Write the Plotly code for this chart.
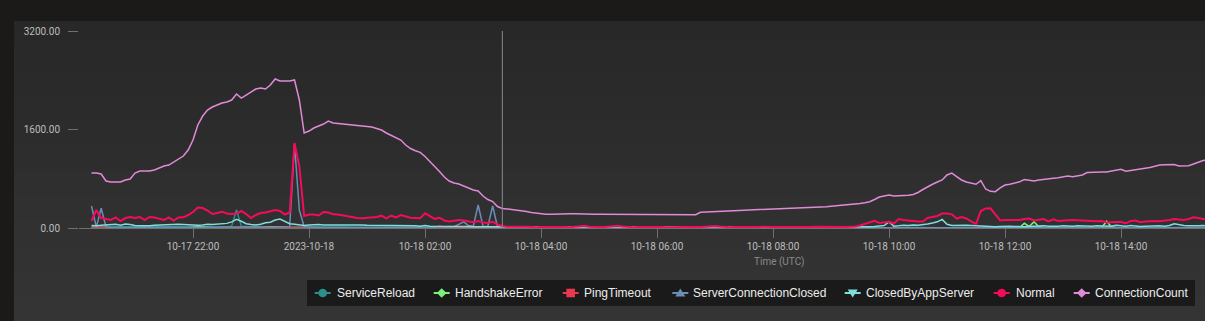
import math
import plotly.graph_objects as go
import pandas as pd

times = pd.date_range("2023-10-17 20:15", periods=232, freq="5min")

connection_count = [
    893, 893, 877, 763, 747, 747, 747, 780, 796, 893,
    926, 926, 926, 942, 974, 1007, 1023, 1072, 1121, 1169,
    1267, 1429, 1673, 1819, 1916, 1965, 1998, 2030, 2046, 2079,
    2176, 2111, 2160, 2209, 2257, 2274, 2257, 2322, 2420, 2387,
    2387, 2387, 2404, 2079, 1543, 1575, 1624, 1656, 1689, 1738,
    1705, 1697, 1689, 1689, 1681, 1665, 1656, 1648, 1640, 1616,
    1592, 1543, 1502, 1470, 1429, 1348, 1291, 1255, 1229, 1161,
    1088, 999, 918, 828, 763, 731, 715, 682, 650, 617,
    601, 520, 463, 430, 349, 317, 309, 300, 292, 284,
    268, 252, 239, 231, 222, 222, 227, 232, 232, 232,
    231, 227,
    227, 226, 225, 224, 224, 223, 222, 222, 221, 220, 219, 218,
    217, 216, 216, 215, 214, 213, 213, 212, 212, 212, 213, 215,
    255, 260, 268, 273, 276, 276, 279, 283, 286, 289,
    292, 296, 299, 300, 302, 304, 309, 313, 317, 320,
    325, 328, 333, 338, 341, 344, 346, 354, 360, 370,
    377, 383, 390, 398, 411, 427, 463, 503, 520, 536,
    520, 520, 528, 531, 544, 577, 625, 674, 711, 747,
    780, 861, 893, 836, 780, 747, 723, 710, 768, 633,
    596, 590, 650, 698, 710, 731, 750, 788, 771, 763,
    780, 792, 802, 809, 815, 828, 844, 833, 848, 861,
    900, 906, 906, 908, 909, 926, 942, 953, 921, 934,
    945, 953, 961, 982, 1002, 1023, 1026, 1031, 1031, 1007,
    1010, 1012, 1039, 1072, 1096, 1112,
]

normal = [
    114, 292, 162, 146, 130, 171, 114, 162, 179, 162,
    179, 130, 179, 171, 154, 130, 171, 122, 171, 174,
    211, 260, 333, 325, 284, 227, 244, 265, 235, 227,
    235, 276, 227, 162, 211, 244, 252, 276, 292, 276,
    219, 252, 1380, 1000, 195, 219, 219, 203, 260, 252,
    222, 219, 203, 184, 179, 162, 158, 162, 167, 179,
    200, 158, 200, 171, 211, 187, 167, 162, 158, 239,
    187, 149, 167, 122, 106, 122, 130, 122, 106, 93,
    114, 89, 81, 102, 57, 32, 21,
    18, 15, 20, 22, 16, 14, 18, 20, 15, 18,
    20, 16, 14, 22, 28, 36, 22, 15, 18, 16,
    20, 30, 36, 24, 15, 14, 16, 18, 15, 14,
    16, 15, 14, 12, 15, 14, 16, 18, 15, 16,
    22, 28, 32, 24, 16, 14, 18, 16, 14, 15,
    16, 18, 20, 24, 18, 15, 14, 16, 18, 16,
    15, 16, 18, 20, 18, 16, 20, 22, 18, 16, 20,
    24, 41, 65, 97, 118, 81, 89, 102, 73, 146,
    130, 118, 110, 106, 106, 162, 179, 195, 235, 235,
    222, 154, 179, 154, 106, 65, 276, 317, 320, 211,
    122, 130, 130, 122, 130, 146, 154, 122, 130, 146,
    106, 141, 114, 114, 125, 130, 125, 130, 122, 118,
    110, 114, 89, 93, 97, 102, 73, 114, 122, 93,
    106, 114, 114, 109, 114, 130, 146, 138, 130, 146,
    174, 162, 146, 146,
]

closed_by_app_server = [
    40, 35, 45, 50, 48, 60, 45, 65, 55, 40,
    38, 35, 35, 45, 50, 48, 50, 55, 60, 55,
    50, 55, 45, 50, 60, 55, 60, 70, 75, 100,
    140, 110, 70, 55, 50, 60, 85, 95, 130, 145,
    110, 70, 60, 45, 40, 50, 55, 55, 50, 50,
    55, 60, 55, 55, 50, 50, 50, 45, 45, 45,
    45, 45, 40, 40, 45, 40, 40, 35, 30, 40,
    30, 30, 25, 30, 35, 30, 30, 25, 25, 20,
    20, 18, 15, 15, 12, 10, 10, 10, 8, 8,
    10, 12, 10, 8, 10, 12, 10, 8, 10, 12,
    10, 8, 10, 12, 10, 8, 10, 12, 10, 8,
    10, 12, 10, 8, 10, 12, 10, 8, 10, 12,
    10, 8, 10, 12, 10, 8, 10, 12, 10, 8,
    10, 12, 10, 8, 10, 12, 10, 8, 10, 12,
    10, 8, 10, 12, 10, 8, 10, 12, 10, 8,
    10, 12, 10, 8, 10, 12, 10, 8, 10, 12,
    15, 20, 25, 30, 40, 100, 30, 35, 45, 40,
    50, 45, 50, 65, 80, 100, 140, 60, 40, 45,
    50, 45, 40, 35, 40, 35, 25, 20, 25, 30,
    30, 25, 20, 20, 25, 30, 25, 35, 30, 25,
    30, 35, 30, 30, 35, 30, 25, 30, 35, 30,
    25, 30, 45, 35, 30, 40, 30, 25, 30, 35,
    30, 35, 30, 40, 70, 50, 40, 35, 30, 35, 40, 35,
]

server_connection_closed = [
    357, 15, 320, 20, 10, 12, 10, 8, 10, 12,
    10, 8, 10, 12, 10, 8, 10, 12, 10, 10,
    12, 10, 8, 10, 12, 10, 10, 8, 10, 12,
    14, 10, 8, 10, 12, 10, 10, 12, 10, 10,
    12, 20, 1360, 292, 20, 10, 12, 10, 8, 10,
    10, 12, 10, 8, 10, 10, 12, 10, 8, 10,
    10, 12, 10, 10, 8, 10, 12, 10, 8, 10,
    12, 10, 30, 15, 25, 20, 60, 100, 40, 30,
    374, 30, 25, 357, 20, 10, 8, 6, 5, 6,
    5, 6, 5, 4, 5, 6, 5, 4, 5, 6,
    5, 4, 5, 6, 5, 4, 5, 6, 5, 4,
    5, 4, 5, 6, 5, 4, 5, 6, 5, 4,
    5, 4, 5, 6, 5, 4, 5, 6, 5, 4,
    5, 4, 5, 6, 5, 4, 5, 6, 5, 4,
    5, 4, 5, 6, 5, 4, 5, 6, 5, 4,
    5, 4, 5, 6, 5, 4, 5, 6, 5, 4,
    5, 6, 8, 6, 5, 8, 6, 5, 6, 8,
    6, 5, 8, 6, 5, 8, 6, 5, 6, 8,
    6, 5, 8, 6, 5, 8, 6, 5, 6, 8,
    6, 5, 8, 6, 5, 8, 6, 5, 6, 8,
    6, 5, 8, 6, 5, 8, 6, 5, 6, 8,
    6, 5, 8, 6, 5, 8, 6, 5, 6, 8,
    6, 5, 8, 6, 5, 8, 6, 5, 6, 8, 6, 5,
]

service_reload = [
    20, 18, 22, 20, 18, 20, 22, 18, 20, 22,
    20, 18, 20, 22, 18, 20, 22, 20, 18, 20,
    22, 20, 18, 20, 22, 20, 18, 20, 22, 30,
    292, 30, 20, 18, 20, 22, 20, 18, 20, 22,
    20, 18, 20, 22, 18, 20, 22, 20, 18, 20,
    18, 16, 18, 16, 14, 16, 18, 16, 14, 16,
    14, 12, 14, 12, 10, 12, 14, 12, 10, 12,
    10, 8, 10, 8, 6, 8, 10, 8, 6, 8,
    6, 5, 4, 5, 4, 3, 4, 3, 2, 3,
    2, 3, 2, 2, 3, 2, 2, 3, 2, 2,
    3, 2, 2, 3, 2, 2, 3, 2, 2, 3,
    2, 2, 3, 2, 2, 3, 2, 2, 3, 2,
    2, 3, 2, 2, 3, 2, 2, 3, 2, 2,
    3, 2, 2, 3, 2, 2, 3, 2, 2, 3,
    2, 2, 3, 2, 2, 3, 2, 2, 3, 2,
    2, 3, 2, 2, 3, 2, 2, 3, 2, 2,
    3, 4, 5, 6, 5, 4, 5, 6, 5, 4,
    5, 6, 5, 4, 5, 6, 5, 4, 5, 6,
    5, 4, 5, 6, 5, 4, 5, 6, 5, 4,
    5, 6, 5, 4, 5, 6, 5, 4, 5, 6,
    5, 4, 5, 6, 5, 4, 5, 6, 5, 4,
    5, 6, 5, 4, 5, 6, 5, 4, 5, 6,
    5, 4, 5, 6, 5, 4, 5, 6, 5, 4, 5, 6,
]

handshake_error = [
    5, 6, 5, 4, 5, 6, 5, 4, 5, 6,
    5, 4, 5, 6, 5, 4, 5, 6, 5, 4,
    6, 12, 20, 15, 6, 5, 4, 5, 6, 5,
    4, 5, 6, 5, 4, 5, 12, 20, 15, 6,
    5, 4, 5, 6, 5, 4, 5, 6, 5, 4,
    5, 6, 5, 4, 5, 6, 5, 4, 5, 6,
    5, 4, 5, 6, 5, 4, 5, 6, 5, 4,
    5, 6, 5, 4, 5, 6, 5, 4, 5, 6,
    3, 2, 3, 2, 1, 2, 1, 0, 1, 0,
    0, 1, 0, 0, 1, 0, 0, 1, 0, 0,
    1, 0, 0, 1, 0, 0, 1, 0, 0, 1,
    0, 0, 1, 0, 0, 1, 0, 0, 1, 0,
    0, 1, 0, 0, 1, 0, 0, 1, 0, 0,
    1, 0, 0, 1, 0, 0, 1, 0, 0, 1,
    0, 0, 1, 0, 0, 1, 0, 0, 1, 0,
    0, 1, 0, 0, 1, 0, 0, 1, 0, 0,
    1, 2, 3, 2, 3, 4, 3, 2, 3, 4,
    3, 2, 3, 4, 3, 2, 3, 4, 3, 2,
    3, 4, 3, 2, 3, 4, 3, 2, 3, 4,
    3, 2, 3, 76, 25, 100, 20, 4, 3, 2,
    3, 4, 3, 2, 3, 4, 3, 2, 3, 4,
    110, 20, 3, 4, 3, 2, 3, 4, 3, 2,
    3, 4, 3, 2, 3, 4, 3, 2, 3, 4, 3, 2,
]

ping_timeout = [
    3, 8, 16, 10, 5, 3, 2, 3, 2, 3,
    2, 3, 2, 3, 2, 3, 2, 3, 2, 3,
    2, 3, 2, 3, 2, 3, 2, 3, 2, 3,
    2, 3, 2, 3, 2, 3, 2, 3, 2, 3,
    2, 6, 12, 6, 2, 3, 2, 3, 2, 3,
    2, 3, 2, 3, 2, 3, 2, 3, 2, 3,
    2, 3, 2, 3, 2, 3, 2, 3, 2, 3,
    2, 3, 2, 3, 2, 3, 2, 3, 2, 3,
    2, 1, 2, 1, 1, 1, 0, 1, 0, 1,
    0, 1, 0, 1, 0, 1, 0, 1, 0, 1,
    0, 1, 0, 1, 0, 1, 0, 1, 0, 1,
    0, 1, 0, 1, 0, 1, 0, 1, 0, 1,
    0, 1, 0, 1, 0, 1, 0, 1, 0, 1,
    0, 1, 0, 1, 0, 1, 0, 1, 0, 1,
    0, 1, 0, 1, 0, 1, 0, 1, 0, 1,
    0, 1, 0, 1, 0, 1, 0, 1, 0, 1,
    1, 2, 1, 2, 1, 2, 1, 2, 1, 2,
    1, 2, 1, 2, 1, 2, 1, 2, 1, 2,
    1, 2, 1, 2, 1, 2, 1, 2, 1, 2,
    1, 2, 1, 2, 1, 2, 1, 2, 1, 2,
    1, 2, 1, 2, 1, 2, 1, 2, 1, 2,
    1, 2, 1, 2, 1, 2, 1, 2, 1, 2,
    1, 2, 1, 2, 1, 2, 1, 2, 1, 2, 1, 2,
]

series_names = ["ServiceReload", "HandshakeError", "PingTimeout",
                "ServerConnectionClosed", "ClosedByAppServer", "Normal",
                "ConnectionCount"]
series_values = [service_reload, handshake_error, ping_timeout,
                 server_connection_closed, closed_by_app_server, normal,
                 connection_count]
series_colors = ["#2b8f8a", "#7cf07a", "#e8384f", "#6a8db5", "#7fdedb",
                 "#f70a5c", "#e08ad8"]
series_symbols = ["circle", "diamond", "square", "triangle-up",
                  "triangle-down", "circle", "diamond"]

tick_times = ["2023-10-17 22:00", "2023-10-18 00:00", "2023-10-18 02:00",
              "2023-10-18 04:00", "2023-10-18 06:00", "2023-10-18 08:00",
              "2023-10-18 10:00", "2023-10-18 12:00", "2023-10-18 14:00"]
tick_labels = ["10-17 22:00", "2023-10-18", "10-18 02:00", "10-18 04:00",
               "10-18 06:00", "10-18 08:00", "10-18 10:00", "10-18 12:00",
               "10-18 14:00"]
y_ticks = [0, 1600, 3200]
y_labels = ["0.00", "1600.00", "3200.00"]
cursor_time = "2023-10-18 03:20"

W, H = 1205, 321
L, R, T, B = 79, 0, 31, 93
PW, PH = W - L - R, H - T - B


def px_x(p):
    return (p - L) / PW


def px_y(p):
    return (H - B - p) / PH


fig = go.Figure()

for name, vals, col in zip(series_names, series_values, series_colors):
    fig.add_trace(go.Scatter(
        x=times, y=vals, mode="lines", name=name,
        line=dict(color=col, width=2 if name == "Normal" else 1.5),
        showlegend=False, hoverinfo="skip"))

shapes = []
annotations = []
# gradient panel background
n_bands = 12
top_px, bot_px = 21, 321
c0, c1 = (40, 40, 40), (52, 52, 52)
for k in range(n_bands):
    y0p = top_px + (bot_px - top_px) * k / n_bands
    y1p = top_px + (bot_px - top_px) * (k + 1) / n_bands
    t = k / (n_bands - 1)
    c = tuple(round(a + (b - a) * t) for a, b in zip(c0, c1))
    shapes.append(dict(type="rect", xref="paper", yref="paper",
                       x0=px_x(14), x1=px_x(W + 2), y0=px_y(y1p + 0.5), y1=px_y(y0p),
                       fillcolor="rgb(%d,%d,%d)" % c, line=dict(width=0),
                       layer="below"))
# cursor line
shapes.append(dict(type="line", xref="x", yref="y", x0=cursor_time, x1=cursor_time,
                   y0=0, y1=3200, line=dict(color="#8a8a8a", width=1)))

# legend (drawn as shapes + text)
leg_left, leg_right, leg_top, leg_bot = 307, 1195, 280, 306
leg_cy = (leg_top + leg_bot) / 2
shapes.append(dict(type="rect", xref="paper", yref="paper",
                   x0=px_x(leg_left), x1=px_x(leg_right),
                   y0=px_y(leg_bot), y1=px_y(leg_top),
                   fillcolor="#1a1a1a", line=dict(width=0), layer="above"))
marker_px = [322.7, 441.7, 570.7, 680.3, 852.7, 1001.7, 1081.7]
text_px = [336.7, 455.3, 584.0, 692.5, 866.0, 1015.7, 1095.0]


def circle_path(r, n=20):
    pts = [(r * math.cos(2 * math.pi * k / n), r * math.sin(2 * math.pi * k / n))
           for k in range(n)]
    return "M " + " L ".join("%.2f,%.2f" % p for p in pts) + " Z"


symbol_paths = {
    "circle": circle_path(4.3),
    "diamond": "M 0,4.8 L 4.8,0 L 0,-4.8 L -4.8,0 Z",
    "square": "M -4.3,-4.3 L 4.3,-4.3 L 4.3,4.3 L -4.3,4.3 Z",
    "triangle-up": "M -5,-3.5 L 5,-3.5 L 0,4.5 Z",
    "triangle-down": "M -5,3.5 L 5,3.5 L 0,-4.5 Z",
}
for name, col, sym, mx, tx in zip(series_names, series_colors, series_symbols,
                                  marker_px, text_px):
    shapes.append(dict(type="line", xref="paper", yref="paper",
                       x0=px_x(mx - 8), x1=px_x(mx + 8),
                       y0=px_y(leg_cy), y1=px_y(leg_cy),
                       line=dict(color=col, width=2), layer="above"))
    shapes.append(dict(type="path", xref="paper", yref="paper",
                       xsizemode="pixel", ysizemode="pixel",
                       xanchor=px_x(mx), yanchor=px_y(leg_cy),
                       path=symbol_paths[sym], fillcolor=col,
                       line=dict(width=0), layer="above"))
    annotations.append(dict(text=name, xref="paper", yref="paper",
                            x=px_x(tx - 2), y=px_y(leg_cy), xanchor="left",
                            yanchor="middle", showarrow=False,
                            font=dict(family="Liberation Sans, Arial", size=12,
                                      color="#ececec")))

annotations.append(dict(text="Time (UTC)", xref="paper", yref="paper",
                        x=px_x(779), y=px_y(262), xanchor="center", yanchor="middle",
                        showarrow=False,
                        font=dict(family="Roboto", size=10, color="#8a8a8a")))

fig.update_layout(
    width=W, height=H,
    margin=dict(l=L, r=R, t=T, b=B),
    paper_bgcolor="#1b1a18",
    plot_bgcolor="rgba(0,0,0,0)",
    shapes=shapes,
    annotations=annotations,
    showlegend=False,
    xaxis=dict(type="date", range=["2023-10-17 20:02:04", "2023-10-18 15:26:54"],
               tickvals=tick_times, ticktext=tick_labels,
               showgrid=False, zeroline=False, showline=True,
               linecolor="#707070", linewidth=1,
               ticks="outside", ticklen=9, tickcolor="#707070",
               tickfont=dict(family="Roboto", size=10, color="#bdbdbd")),
    yaxis=dict(range=[0, 3200], tickvals=y_ticks, ticktext=y_labels,
               showgrid=False, zeroline=False, showline=False,
               ticks="outside", ticklen=10, tickcolor="#707070",
               ticklabelstandoff=6,
               tickfont=dict(family="Roboto", size=10, color="#bdbdbd")),
)

fig.write_html("out.html")
